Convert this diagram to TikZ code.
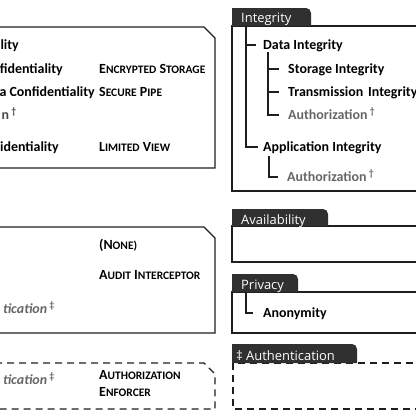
\documentclass[tikz,border=0pt]{standalone}
\usepackage{fontspec}
\setmainfont{Carlito}
\newfontfamily\tabfont{Open Sans}
\definecolor{boxline}{HTML}{1E1E1E}
\definecolor{tabfill}{HTML}{303030}
\definecolor{graytext}{HTML}{666666}
\newcommand\SCword[2]{#1{\fontsize{11.5}{12}\selectfont #2}}
\begin{document}
\begin{tikzpicture}[x=1bp,y=-1bp,
  box/.style={draw=boxline,line width=1.4bp},
  dbox/.style={box,dash pattern=on 7bp off 5bp},
  tabshape/.style={fill=tabfill},
  tablabel/.style={text=white,font=\tabfont\fontsize{13}{14}\selectfont,anchor=base west,inner sep=0},
  tree/.style={draw=boxline,line width=1.2bp},
  txt/.style={font=\bfseries\fontsize{14}{16}\selectfont,inner sep=0,text height=11bp,text depth=2bp,anchor=west},
  rtxt/.style={txt,anchor=east},
  gtxt/.style={txt,text=graytext},
  itxt/.style={rtxt,text=graytext,font=\bfseries\itshape\fontsize{14}{16}\selectfont},
  sc/.style={txt}
]
\useasboundingbox (0,0) rectangle (416,416);
\clip (0,0) rectangle (416,416);

% ---------- left boxes ----------
\draw[box] (-5,27) -- (204,27) -- (215,38) -- (215,168) -- (-5,168);
\draw[box] (-5,227) -- (204,227) -- (215,238) -- (215,333) -- (-5,333);
\draw[dbox] (-5,363) -- (204,363) -- (215,374) -- (215,409) -- (-5,409);

% left box 1 texts
\node[rtxt] (c1) at (19,45) {lity};
\node[rtxt] (c2) at (63,69) {fidentiality};
\node[rtxt] (c3) at (95,92) {a Confidentiality};
\node[rtxt,text=graytext!70!black] (c4) at (17,115) {n\,\textsuperscript{†}};
\node[rtxt] (c5) at (59,147) {identiality};
\node[sc] (m1) at (99,69) {\SCword{E}{NCRYPTED} \SCword{S}{TORAGE}};
\node[sc] (m2) at (99,92) {\SCword{S}{ECURE} \SCword{P}{IPE}};
\node[sc] (m3) at (99,147) {\SCword{L}{IMITED} \SCword{V}{IEW}};

% left box 2 texts
\node[sc] (m4) at (99,245) {\SCword{(N}{ONE)}};
\node[sc] (m5) at (99,275) {\SCword{A}{UDIT} \SCword{I}{NTERCEPTOR}};
\node[itxt] (a1) at (55,309) {tication\,\textsuperscript{\upshape ‡}};

% left box 3 texts
\node[itxt] (a2) at (55,380) {tication\,\textsuperscript{\upshape ‡}};
\node[sc] (m6) at (99,375) {\SCword{A}{UTHORIZATION}};
\node[sc] (m7) at (99,392) {\SCword{E}{NFORCER}};

% ---------- Integrity ----------
\draw[box] (232,26) rectangle (425,191);
\fill[tabshape] (232,26) -- (232,8) -- (306,8) arc(270:360:5) -- (311,26) -- cycle;
\node[tablabel] (tInt) at (241,22) {Integrity};

\node[txt] (di) at (263,45) {Data Integrity};
\node[txt] (si) at (288,69) {Storage Integrity};
\node[txt] (ti) at (288,92) {Transmission\hspace{0.35em}Integrity};
\node[gtxt] (au1) at (288,115) {Authorization\,\textsuperscript{†}};
\node[txt] (ai) at (263,147) {Application Integrity};
\node[gtxt] (au2) at (287,177) {Authorization\,\textsuperscript{†}};

\coordinate (ir) at (246,26);
\coordinate (dr) at (268,52);
\coordinate (ar) at (269,156);
\draw[tree] (ir) |- ([xshift=-7bp]di.west);
\draw[tree] (ir) |- ([xshift=-5bp]ai.west);
\draw[tree] (dr) |- ([xshift=-9bp]si.west);
\draw[tree] (dr) |- ([xshift=-9bp]ti.west);
\draw[tree] (dr) |- ([xshift=-9bp]au1.west);
\draw[tree] (ar) |- ([xshift=-9bp]au2.west);

% ---------- Availability ----------
\draw[box] (232,226) rectangle (425,262);
\fill[tabshape] (232,226) -- (232,209) -- (323,209) arc(270:360:5) -- (328,226) -- cycle;
\node[tablabel] (tAv) at (241,224) {Availability};

% ---------- Privacy ----------
\draw[box] (232,292) rectangle (425,333);
\fill[tabshape] (232,292) -- (232,274) -- (293,274) arc(270:360:5) -- (298,292) -- cycle;
\node[tablabel] (tPr) at (241,289) {Privacy};
\node[txt] (an) at (263,313) {Anonymity};
\coordinate (pr) at (246,292);
\draw[tree] (pr) |- ([xshift=-10bp]an.west);

% ---------- Authentication ----------
\draw[dbox] (425,363) -- (233,363) -- (233,409) -- (425,409);
\fill[tabshape] (232,363) -- (232,344) -- (352,344) arc(270:360:5) -- (357,363) -- cycle;
\node[tablabel] (tAu) at (236,360) {‡ Authentication};
\end{tikzpicture}
\end{document}
